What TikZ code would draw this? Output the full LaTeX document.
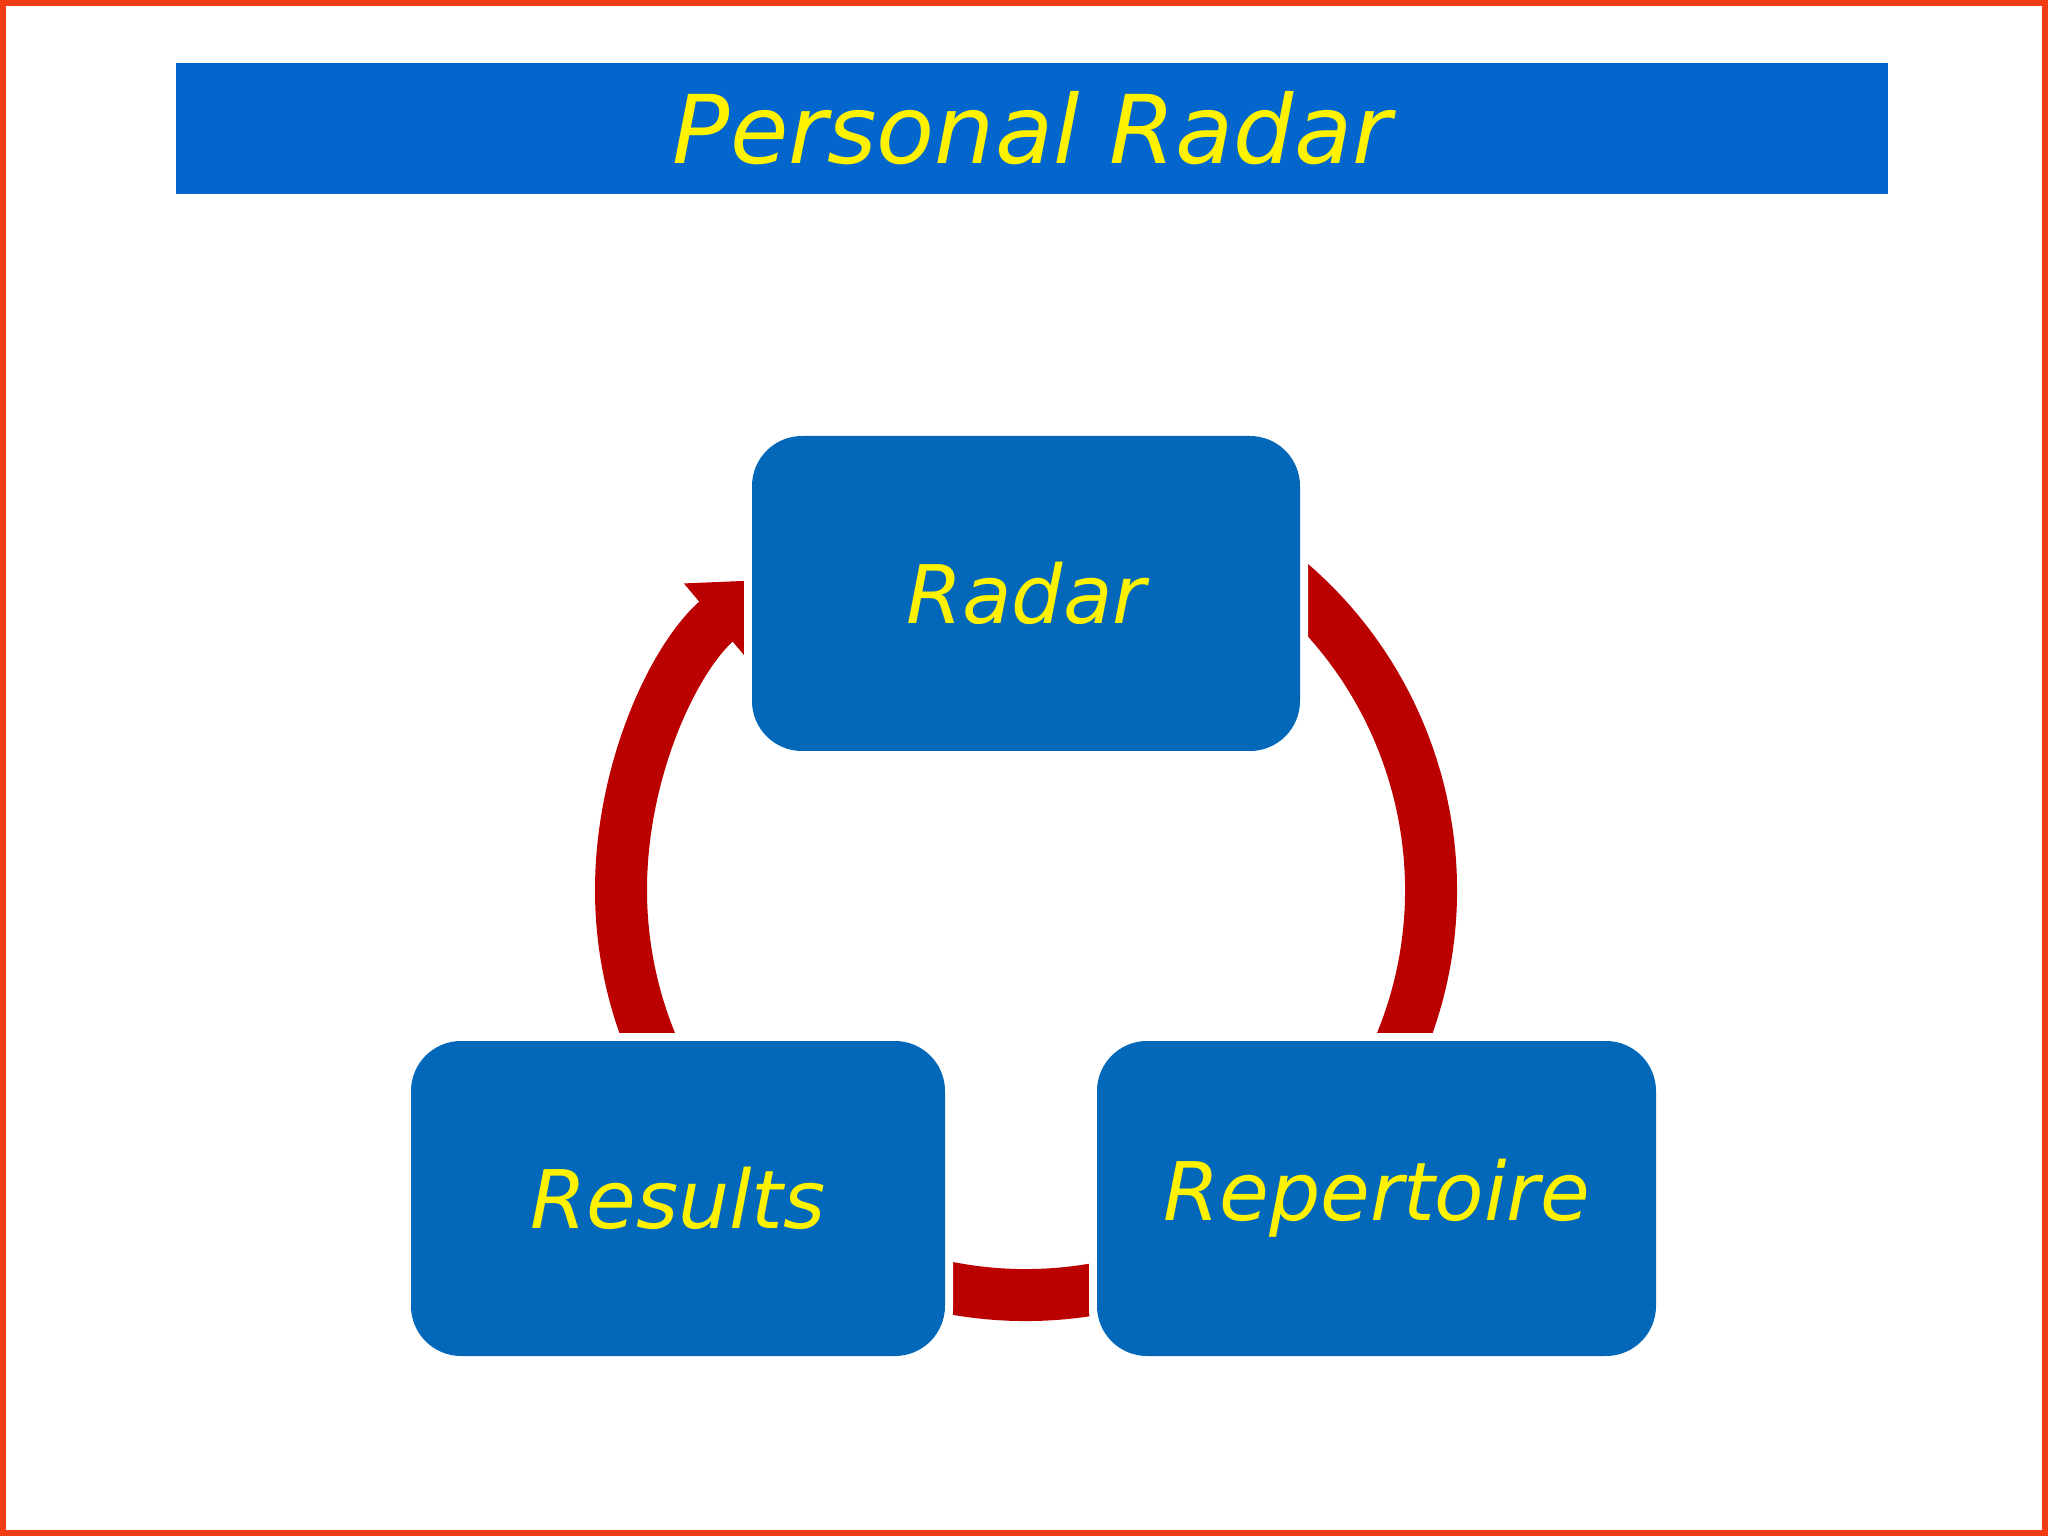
\documentclass[tikz,border=0pt]{standalone}
\usepackage{fontspec}
\setmainfont{DejaVu Sans}
\usetikzlibrary{arrows.meta}
\definecolor{bar}{RGB}{3,102,204}
\definecolor{boxc}{RGB}{3,104,186}
\definecolor{ring}{RGB}{187,0,0}
\definecolor{frame}{RGB}{240,60,20}
\tikzset{
 box/.style={fill=boxc,rounded corners=0.5cm,minimum width=#1,minimum height=3.15cm,text=yellow,font=\itshape\fontsize{23}{28}\selectfont,inner sep=0},
 mask/.style={fill=white,rounded corners=0.55cm},
 ringline/.style={draw=ring,line width=0.52cm}
}
\begin{document}
\begin{tikzpicture}[x=1cm,y=1cm]
\draw[frame,line width=0.06cm,fill=white] (0.03,-0.03) rectangle (20.45,-15.33);
\useasboundingbox (0,0) rectangle (20.48,-15.36);
\node[fill=bar,minimum width=17.12cm,minimum height=1.31cm,text=yellow,font=\itshape\fontsize{27}{32}\selectfont,inner sep=0] (title) at (10.32,-1.285) {Personal Radar};
\coordinate (c) at (10.26,-8.9);
\draw[ringline,-{Triangle[width=0.95cm,length=0.65cm]}] ([shift={(60:4.05)}]c) arc[start angle=60,end angle=-230,radius=4.05];
\fill[mask] (7.44,-4.29) rectangle (13.08,-7.58);
\fill[mask] (4.03,-10.33) rectangle (9.53,-13.64);
\fill[mask] (10.89,-10.33) rectangle (16.64,-13.64);
\node[box=5.48cm] (radar) at (10.26,-5.935) {Radar};
\node[box=5.34cm] (results) at (6.78,-11.985) {Results};
\node[box=5.59cm] (rep) at (13.765,-11.985) {Repertoire};
\end{tikzpicture}
\end{document}
